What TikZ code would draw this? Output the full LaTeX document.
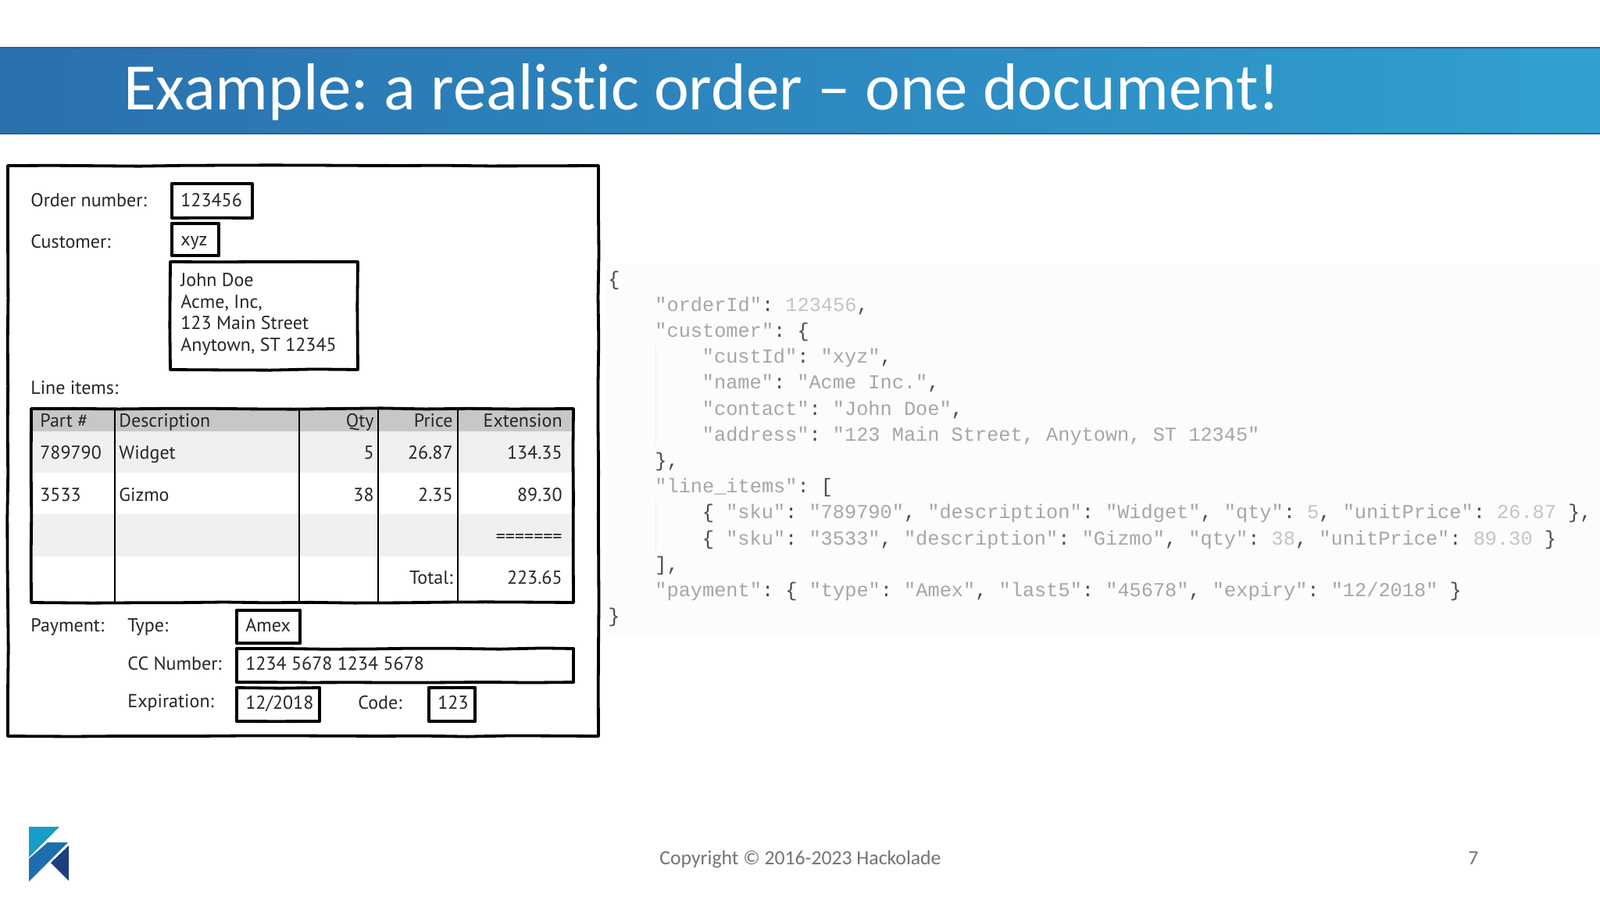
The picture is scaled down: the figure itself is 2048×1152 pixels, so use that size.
\documentclass[tikz,border=0pt]{standalone}
\usepackage{fontspec}
\usetikzlibrary{decorations.pathmorphing}
\setmainfont[Ligatures={TeX,NoCommon}]{Carlito}
\newfontfamily\handfont{PT Sans}
\newfontfamily\jsonfont{Liberation Mono}
\definecolor{jk}{HTML}{A6A6A6}
\definecolor{jn}{HTML}{C4C4C4}
\definecolor{jp}{HTML}{4A4A4A}
\definecolor{jbg}{HTML}{FCFCFD}
\definecolor{hleft}{HTML}{2A70AE}
\definecolor{hmid}{HTML}{0A66A5}
\definecolor{hright}{HTML}{30A0D0}
\definecolor{hline}{HTML}{2F5C9C}
\definecolor{logoa}{HTML}{1A9CC9}
\definecolor{logob}{HTML}{1C6FAE}
\definecolor{logoc}{HTML}{1D3F80}
\newcommand\K[1]{\textcolor{jk}{#1}}
\newcommand\N[1]{\textcolor{jn}{#1}}
\newcommand\sk[4]{%
  \draw[sketch] (#1,#2) -- (#3,#2);
  \draw[sketch] (#3,#2) -- (#3,#4);
  \draw[sketch] (#3,#4) -- (#1,#4);
  \draw[sketch] (#1,#4) -- (#1,#2);}
\tikzset{
  hand/.style={inner sep=0pt,anchor=base west,text=black!85,font=\handfont\fontsize{12}{14}\selectfont},
  handr/.style={hand,anchor=base east},
  sketch/.style={draw=black,line width=1.9pt,line cap=round,decorate,decoration={random steps,segment length=28pt,amplitude=0.35pt}},
  rule/.style={draw=black,line width=1.3pt},
  json/.style={inner sep=0pt,anchor=base west,text=jp,font=\jsonfont\fontsize{12.65}{15}\selectfont\frenchspacing},
  guide/.style={draw=black!7,line width=0.5pt},
  foot/.style={inner sep=0pt,anchor=base west,text=black!55,font=\fontsize{12.85}{14}\selectfont}
}
\begin{document}
\begin{tikzpicture}[x=0.5pt,y=-0.5pt]
\useasboundingbox (0,0) rectangle (2048,1152);
\fill[white] (0,0) rectangle (2048,1152);
% header
\shade[left color=hleft,middle color=hmid,right color=hright] (0,61) rectangle (2048,171);
\draw[draw=hline,line width=0.8pt] (-2,61) rectangle (2050,171);
\node[inner sep=0pt,anchor=base west,text=white,font=\fontsize{42.45}{50}\selectfont\frenchspacing] (title) at (158,140) {Example: a realistic order -- one document!};
% form
\sk{10}{212}{766}{942}
\node[hand] (lorder) at (39,264) {Order number:};
\sk{220}{235}{323}{279}
\node[hand] (vorder) at (231,264) {123456};
\node[hand] (lcust) at (39,317) {Customer:};
\sk{220}{286}{280}{327}
\node[hand] (vcust) at (231,314) {xyz};
\sk{218}{335}{458}{473}
\node[hand] (a1) at (231,366) {John Doe};
\node[hand] (a2) at (231,394) {Acme, Inc,};
\node[hand] (a3) at (231,421) {123 Main Street};
\node[hand] (a4) at (231,449) {Anytown, ST 12345};
\node[hand] (litems) at (39,504) {Line items:};
% table
\fill[black!22] (40,523) rectangle (734,552);
\fill[black!6] (40,552) rectangle (734,605);
\fill[black!6] (40,658) rectangle (734,712);
\draw[rule] (147,523) -- (147,771);
\draw[rule] (383,523) -- (383,771);
\draw[rule] (484,523) -- (484,771);
\draw[rule] (586,523) -- (586,771);
\sk{40}{523}{734}{771}
\node[hand] (h1) at (51,546) {Part \#};
\node[hand] (h2) at (152,546) {Description};
\node[handr] (h3) at (479,546) {Qty};
\node[handr] (h4) at (580,546) {Price};
\node[handr] (h5) at (720,546) {Extension};
\node[hand] (r11) at (51,587) {789790};
\node[hand] (r12) at (152,587) {Widget};
\node[handr] (r13) at (479,587) {5};
\node[handr] (r14) at (580,587) {26.87};
\node[handr] (r15) at (720,587) {134.35};
\node[hand] (r21) at (51,641) {3533};
\node[hand] (r22) at (152,641) {Gizmo};
\node[handr] (r23) at (479,641) {38};
\node[handr] (r24) at (580,641) {2.35};
\node[handr] (r25) at (720,641) {89.30};
\node[handr] (r35) at (720,694) {=======};
\node[handr] (r44) at (580,747) {Total:};
\node[handr] (r45) at (720,747) {223.65};
% payment
\node[hand] (lpay) at (39,808) {Payment:};
\node[hand] (ltype) at (163,808) {Type:};
\sk{303}{781}{384}{823}
\node[hand] (vtype) at (314,808) {Amex};
\node[hand] (lcc) at (163,857) {CC Number:};
\sk{303}{830}{734}{873}
\node[hand] (vcc) at (314,857) {1234 5678 1234 5678};
\node[hand] (lexp) at (163,905) {Expiration:};
\sk{303}{880}{409}{923}
\node[hand] (vexp) at (314,907) {12/2018};
\node[hand] (lcode) at (458,907) {Code:};
\sk{549}{880}{608}{923}
\node[hand] (vcode) at (560,907) {123};
% json
\fill[jbg] (775,338) rectangle (2048,815);
\draw[guide] (839,442) -- (839,570);
\draw[guide] (839,640) -- (839,705);
\node[json] (j0) at (778,365) {\{};
\node[json] (j1) at (838,398.2) {\K{"orderId"}: \N{123456},};
\node[json] (j2) at (838,431.4) {\K{"customer"}: \{};
\node[json] (j3) at (898.5,464.6) {\K{"custId"}: \K{"xyz"},};
\node[json] (j4) at (898.5,497.8) {\K{"name"}: \K{"Acme Inc."},};
\node[json] (j5) at (898.5,531) {\K{"contact"}: \K{"John Doe"},};
\node[json] (j6) at (898.5,564.2) {\K{"address"}: \K{"123 Main Street, Anytown, ST 12345"}};
\node[json] (j7) at (838,597.4) {\},};
\node[json] (j8) at (838,630.6) {\K{"line\_items"}: [};
\node[json] (j9) at (898.5,663.8) {\{ \K{"sku"}: \K{"789790"}, \K{"description"}: \K{"Widget"}, \K{"qty"}: \N{5}, \K{"unitPrice"}: \N{26.87} \},};
\node[json] (j10) at (898.5,697) {\{ \K{"sku"}: \K{"3533"}, \K{"description"}: \K{"Gizmo"}, \K{"qty"}: \N{38}, \K{"unitPrice"}: \N{89.30} \}};
\node[json] (j11) at (838,730.2) {],};
\node[json] (j12) at (838,763.4) {\K{"payment"}: \{ \K{"type"}: \K{"Amex"}, \K{"last5"}: \K{"45678"}, \K{"expiry"}: \K{"12/2018"} \}};
\node[json] (j13) at (778,796.6) {\}};
% logo
\fill[logoa] (37,1058) -- (76,1058) -- (37,1097) -- cycle;
\fill[logob] (37,1099) -- (61,1078) -- (87,1078) -- (37,1128) -- cycle;
\fill[logoc] (88,1082) -- (88,1127) -- (65,1104) -- cycle;
% footer
\node[foot] (copy) at (844,1106) {Copyright © 2016-2023 Hackolade};
\node[foot] (page) at (1879,1106) {7};
\end{tikzpicture}
\end{document}
